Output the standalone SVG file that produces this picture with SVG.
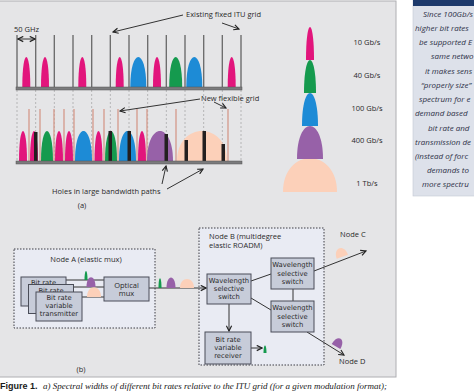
<svg xmlns="http://www.w3.org/2000/svg" width="474" height="391" viewBox="0 0 474 391">
<defs>
<style>
.t{font-family:"Open Sans","Liberation Sans",sans-serif;font-size:7.5px;fill:#2a2a2a}
.b{font-family:"DejaVu Sans","Open Sans",sans-serif;font-size:6.8px;fill:#2a2a2a;text-anchor:middle}
.c{text-anchor:middle}
.side{font-family:"Open Sans","Liberation Sans",sans-serif;font-style:italic;font-size:8px;fill:#2b2f45}
.grid{stroke:#6e6e6e;stroke-width:1.4}
.dash{stroke:#a9a9ab;stroke-width:0.8;stroke-dasharray:2,2}
.flex{stroke:#d4998a;stroke-width:1.3}
.bar{fill:#7b7b7d;stroke:#555;stroke-width:0.5}
.mg{fill:#e2157c}.gr{fill:#159a4e}.bl{fill:#1d8bd6}.pu{fill:#9761a8}.pe{fill:#fcd0b9}.bk{fill:#231f20}
.box{fill:#c7ccd9;stroke:#4a4d58;stroke-width:1}
.node{fill:#e9ebf3;stroke:#3c3c44;stroke-width:1;stroke-dasharray:1.5,1.5}
.ln{stroke:#333;stroke-width:1;fill:none}
</style>
<marker id="ah" viewBox="0 0 8 8" refX="7" refY="4" markerWidth="7" markerHeight="7" orient="auto-start-reverse" markerUnits="userSpaceOnUse">
<path d="M1,1 L7,4 L1,7" fill="none" stroke="#222" stroke-width="1.3"/>
</marker>
<clipPath id="clip1"><rect x="21" y="277" width="45" height="7.5"/></clipPath>
<clipPath id="clip2"><rect x="28.5" y="284.5" width="45" height="7.5"/></clipPath>
</defs>
<rect width="474" height="391" fill="#fff"/>
<rect x="-1" y="1" width="397" height="376" fill="#e5e5e7" stroke="#aeaeb2" stroke-width="1"/>

<!-- sidebar -->
<g id="sidebar">
<rect x="413" y="0" width="62" height="196" fill="#dde1ea" stroke="#c3c8d3" stroke-width="0.6"/>
<rect x="413" y="0" width="62" height="6" fill="#1d3a6c"/>
<text class="side" x="423" y="17">Since 100Gb/s</text>
<text class="side" x="415" y="31">higher bit rates</text>
<text class="side" x="419" y="45">be supported E</text>
<text class="side" x="431" y="59">same netwo</text>
<text class="side" x="425" y="74">it makes sens</text>
<text class="side" x="421" y="88">“properly size”</text>
<text class="side" x="419" y="102">spectrum for e</text>
<text class="side" x="415" y="116">demand based</text>
<text class="side" x="428" y="131">bit rate and</text>
<text class="side" x="415" y="145">transmission de</text>
<text class="side" x="415" y="159">(instead of forc</text>
<text class="side" x="427" y="173">demands to</text>
<text class="side" x="422" y="187">more spectru</text>
</g>

<!-- (a) spectrum -->
<g id="spectrum">
<g id="dashed-grid">
<line class="dash" x1="17" y1="90" x2="17" y2="161"/>
<line class="dash" x1="35.67" y1="90" x2="35.67" y2="161"/>
<line class="dash" x1="54.33" y1="90" x2="54.33" y2="161"/>
<line class="dash" x1="73" y1="90" x2="73" y2="161"/>
<line class="dash" x1="91.67" y1="90" x2="91.67" y2="161"/>
<line class="dash" x1="110.33" y1="90" x2="110.33" y2="161"/>
<line class="dash" x1="129" y1="90" x2="129" y2="161"/>
<line class="dash" x1="147.67" y1="90" x2="147.67" y2="161"/>
<line class="dash" x1="166.33" y1="90" x2="166.33" y2="161"/>
<line class="dash" x1="185" y1="90" x2="185" y2="161"/>
<line class="dash" x1="203.67" y1="90" x2="203.67" y2="161"/>
<line class="dash" x1="222.33" y1="90" x2="222.33" y2="161"/>
<line class="dash" x1="241" y1="90" x2="241" y2="161"/>
</g>
<g id="itu-grid">
<line class="grid" x1="17" y1="35" x2="17" y2="87"/>
<line class="grid" x1="35.67" y1="35" x2="35.67" y2="87"/>
<line class="grid" x1="54.33" y1="35" x2="54.33" y2="87"/>
<line class="grid" x1="73" y1="35" x2="73" y2="87"/>
<line class="grid" x1="91.67" y1="35" x2="91.67" y2="87"/>
<line class="grid" x1="110.33" y1="35" x2="110.33" y2="87"/>
<line class="grid" x1="129" y1="35" x2="129" y2="87"/>
<line class="grid" x1="147.67" y1="35" x2="147.67" y2="87"/>
<line class="grid" x1="166.33" y1="35" x2="166.33" y2="87"/>
<line class="grid" x1="185" y1="35" x2="185" y2="87"/>
<line class="grid" x1="203.67" y1="35" x2="203.67" y2="87"/>
<line class="grid" x1="222.33" y1="35" x2="222.33" y2="87"/>
<line class="grid" x1="241" y1="35" x2="241" y2="87"/>
</g>
<g id="top-signals">
<path class="mg" d="M22.3,87 C22.3,47 30.3,47 30.3,87Z"/>
<path class="mg" d="M41,87 C41,47 49,47 49,87Z"/>
<path class="mg" d="M78.3,87 C78.3,47 86.3,47 86.3,87Z"/>
<path class="mg" d="M115.7,87 C115.7,47 123.7,47 123.7,87Z"/>
<path class="bl" d="M130.3,87 C130.3,47 146.3,47 146.3,87Z"/>
<path class="mg" d="M153,87 C153,47 161,47 161,87Z"/>
<path class="gr" d="M169.2,87 C169.2,47 182.2,47 182.2,87Z"/>
<path class="bl" d="M186.3,87 C186.3,47 202.3,47 202.3,87Z"/>
<path class="mg" d="M227.7,87 C227.7,47 235.7,47 235.7,87Z"/>
</g>
<rect class="bar" x="16" y="87" width="226" height="3"/>

<g id="flex-grid">
<line class="flex" x1="29" y1="109" x2="29" y2="161"/>
<line class="flex" x1="40" y1="109" x2="40" y2="161"/>
<line class="flex" x1="54" y1="109" x2="54" y2="161"/>
<line class="flex" x1="64" y1="109" x2="64" y2="161"/>
<line class="flex" x1="74" y1="109" x2="74" y2="161"/>
<line class="flex" x1="93" y1="109" x2="93" y2="161"/>
<line class="flex" x1="104" y1="109" x2="104" y2="161"/>
<line class="flex" x1="118" y1="109" x2="118" y2="161"/>
<line class="flex" x1="137" y1="109" x2="137" y2="161"/>
<line class="flex" x1="147" y1="109" x2="147" y2="161"/>
<line class="flex" x1="176" y1="109" x2="176" y2="161"/>
<line class="flex" x1="228" y1="109" x2="228" y2="161"/>
</g>
<g id="bottom-signals">
<path class="mg" d="M19,161 C19,121 27,121 27,161Z"/>
<path class="mg" d="M30,161 C30,121 38,121 38,161Z"/>
<path class="gr" d="M41,161 C41,121 53,121 53,161Z"/>
<path class="mg" d="M55,161 C55,121 63,121 63,161Z"/>
<path class="mg" d="M65,161 C65,121 73,121 73,161Z"/>
<path class="bl" d="M75,161 C75,121 92,121 92,161Z"/>
<path class="mg" d="M94.5,161 C94.5,121 102.5,121 102.5,161Z"/>
<path class="gr" d="M105,161 C105,121 117,121 117,161Z"/>
<path class="bl" d="M119,161 C119,121 136,121 136,161Z"/>
<path class="mg" d="M138,161 C138,121 146,121 146,161Z"/>
<path class="pu" d="M147,161 C147,121 173,121 173,161Z"/>
<path class="pe" d="M177,161 C177,121 227,121 227,161Z"/>
<rect class="bk" x="34" y="132" width="3.5" height="29"/>
<rect class="bk" x="108.5" y="131" width="3.5" height="30"/>
<rect class="bk" x="127.5" y="131" width="3.5" height="30"/>
<rect class="bk" x="164.5" y="134" width="3.5" height="27"/>
<rect class="bk" x="184.5" y="140" width="3.5" height="21"/>
<rect class="bk" x="202.5" y="131" width="3.5" height="30"/>
<rect class="bk" x="221.5" y="144" width="3.5" height="17"/>
</g>
<rect class="bar" x="16" y="161" width="226" height="3"/>

<g id="annotations">
<text class="t" x="14" y="32">50 GHz</text>
<line class="ln" x1="18" y1="39" x2="35" y2="39" marker-start="url(#ah)" marker-end="url(#ah)" stroke-width="0.9"/>
<text class="t" x="186" y="17">Existing fixed ITU grid</text>
<line class="ln" x1="183" y1="15" x2="113" y2="32" marker-end="url(#ah)"/>
<line class="ln" x1="222" y1="23" x2="239" y2="29" marker-end="url(#ah)"/>
<text class="t" x="201" y="101">New flexible grid</text>
<line class="ln" x1="200" y1="99" x2="120" y2="111" marker-end="url(#ah)"/>
<line class="ln" x1="214" y1="102" x2="226" y2="108" marker-end="url(#ah)"/>
<text class="t" x="52" y="194">Holes in large bandwidth paths</text>
<line class="ln" x1="162" y1="184" x2="166" y2="166" marker-end="url(#ah)"/>
<line class="ln" x1="167" y1="189" x2="203" y2="169" marker-end="url(#ah)"/>
<text class="t c" x="82" y="208">(a)</text>
</g>
</g>

<!-- legend -->
<g id="legend">
<path class="pe" d="M283,192 C283,147 337,147 337,192Z"/>
<path class="pu" d="M297,159 C297,115 323,115 323,159Z"/>
<path class="bl" d="M302,126 C302,82 318,82 318,126Z"/>
<path class="gr" d="M304,93 C304,49 316,49 316,93Z"/>
<path class="mg" d="M306,60 C306,16 314,16 314,60Z"/>
<text class="t c" x="367" y="45">10 Gb/s</text>
<text class="t c" x="367" y="78">40 Gb/s</text>
<text class="t c" x="367" y="111">100 Gb/s</text>
<text class="t c" x="367" y="143">400 Gb/s</text>
<text class="t c" x="367" y="186">1 Tb/s</text>
</g>

<!-- (b) network -->
<g id="nodeA">
<rect class="node" x="14" y="249" width="141" height="79"/>
<text class="t c" x="86" y="262">Node A (elastic mux)</text>
</g>
<g id="nodeB">
<rect class="node" x="199" y="228" width="125" height="137"/>
<text class="t" x="209" y="239">Node B (multidegree</text>
<text class="t" x="209" y="248">elastic ROADM)</text>
</g>

<g id="connectors">
<line class="ln" x1="66" y1="280" x2="104" y2="280"/>
<line class="ln" x1="74" y1="287" x2="104" y2="287"/>
<line class="ln" x1="82" y1="297" x2="104" y2="297"/>
<line class="ln" x1="149" y1="288" x2="206" y2="288" marker-end="url(#ah)"/>
<line class="ln" x1="251" y1="281" x2="271" y2="274"/>
<line class="ln" x1="251" y1="298" x2="271" y2="310"/>
<line class="ln" x1="293" y1="289" x2="293" y2="301"/>
<line class="ln" x1="314" y1="271" x2="366" y2="251" marker-end="url(#ah)"/>
<line class="ln" x1="307" y1="332" x2="344" y2="355" marker-end="url(#ah)"/>
<line class="ln" x1="229" y1="304" x2="229" y2="331" marker-end="url(#ah)"/>
<line class="ln" x1="251" y1="348" x2="262" y2="348" marker-end="url(#ah)"/>
</g>

<g id="tx1">
<rect class="box" x="21" y="277" width="45" height="29"/>
<text class="b" x="43.5" y="285" clip-path="url(#clip1)">Bit rate</text>
</g>
<g id="tx2">
<rect class="box" x="28.5" y="284.5" width="45" height="29"/>
<text class="b" x="51" y="292.5" clip-path="url(#clip2)">Bit rate</text>
</g>
<g id="tx3">
<rect class="box" x="36" y="292" width="46" height="29"/>
<text class="b" x="59" y="299.5">Bit rate</text>
<text class="b" x="59" y="307.5">variable</text>
<text class="b" x="59" y="315.5">transmitter</text>
</g>
<g id="mux">
<rect class="box" x="104" y="277" width="45" height="24"/>
<text class="t c" x="126.5" y="287.5">Optical</text>
<text class="t c" x="126.5" y="296">mux</text>
</g>
<g id="wss1">
<rect class="box" x="207" y="274" width="44" height="30"/>
<text class="b" x="229" y="282.5">Wavelength</text>
<text class="b" x="229" y="291">selective</text>
<text class="b" x="229" y="299">switch</text>
</g>
<g id="wss2">
<rect class="box" x="271" y="258" width="43" height="31"/>
<text class="b" x="292.5" y="267">Wavelength</text>
<text class="b" x="292.5" y="275.5">selective</text>
<text class="b" x="292.5" y="283.5">switch</text>
</g>
<g id="wss3">
<rect class="box" x="271" y="301" width="43" height="31"/>
<text class="b" x="292.5" y="310">Wavelength</text>
<text class="b" x="292.5" y="318.5">selective</text>
<text class="b" x="292.5" y="326.5">switch</text>
</g>
<g id="receiver">
<rect class="box" x="205" y="332" width="46" height="32"/>
<text class="b" x="228" y="342">Bit rate</text>
<text class="b" x="228" y="350">variable</text>
<text class="b" x="228" y="358">receiver</text>
</g>

<g id="small-signals">
<path class="gr" d="M84.5,280 C84.5,268 87.5,268 87.5,280Z"/>
<path class="pu" d="M86.5,287 C86.5,274 95.5,274 95.5,287Z"/>
<path class="pe" d="M87,297 C87,284 101,284 101,297Z"/>
<path class="gr" d="M158.5,288 C158.5,275 161.5,275 161.5,288Z"/>
<path class="pu" d="M166.5,288 C166.5,274 175.5,274 175.5,288Z"/>
<path class="pe" d="M180,288 C180,276 194,276 194,288Z"/>
<path class="pe" d="M335,257 C335,245 347,245 347,257Z" transform="rotate(-20 341 253)"/>
<path class="pu" d="M333,347 C333,335 343,335 343,347Z" transform="rotate(30 338 343)"/>
<path class="gr" d="M263.5,353 C263.5,343 266.5,343 266.5,353Z"/>
</g>

<g id="labels-b">
<text class="t" x="340" y="237">Node C</text>
<text class="t" x="339" y="364">Node D</text>
<text class="t c" x="81" y="372">(b)</text>
</g>

<g id="caption">
<text x="0" y="389" font-family="Liberation Sans, Arial, sans-serif" font-weight="bold" font-size="9" fill="#1a1a1a">Figure 1.</text>
<text x="43" y="389" font-family="Liberation Serif, Times New Roman, serif" font-style="italic" font-size="9" fill="#1a1a1a" textLength="344">a) Spectral widths of different bit rates relative to the ITU grid (for a given modulation format);</text>
</g>
</svg>
